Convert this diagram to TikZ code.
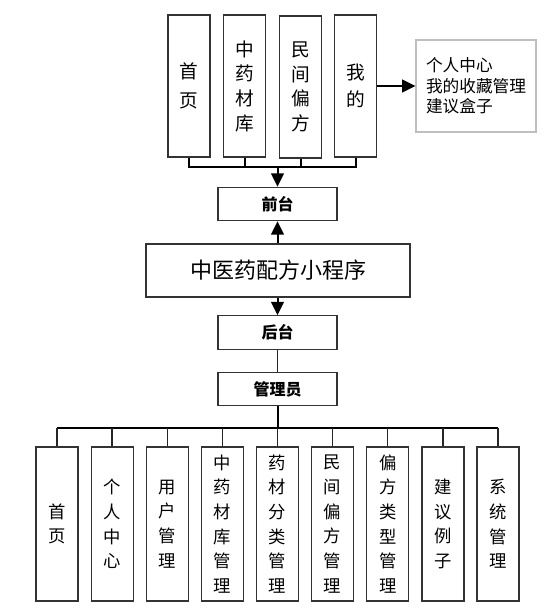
\documentclass[tikz,border=0pt]{standalone}
\usepackage{fontspec}
\newfontfamily\cjk{Noto Sans CJK SC}
\usetikzlibrary{arrows.meta}
\begin{document}
\begin{tikzpicture}[x=0.75pt,y=-0.75pt,
  box/.style={draw=black!80, line width=0.9pt, fill=white, inner sep=0pt},
  vbox/.style={box, minimum width=31.5pt, align=center, font=\cjk\fontsize{13}{18.5}\selectfont},
  topbox/.style={vbox, minimum height=106.5pt, font=\cjk\fontsize{14}{18.5}\selectfont},
  botbox/.style={vbox, minimum height=115.5pt},
  midbox/.style={box, minimum width=89.25pt, minimum height=25pt, font=\cjk\bfseries\fontsize{12}{14}\selectfont},
  conn/.style={draw=black, line width=1.5pt},
  thin/.style={draw=black!85, line width=1pt},
  arr/.style={conn, -{Triangle[width=9.5pt,length=10pt]}}
]
\useasboundingbox (0,0) rectangle (549,609);
% top boxes
\node[topbox] (t1) at (189,86) {首\\[3pt]页};
\node[topbox] (t2) at (244.5,86) {中\\药\\材\\库};
\node[topbox] (t3) at (300.5,87) {民\\间\\偏\\方};
\node[topbox] (t4) at (355.5,86) {我\\[2pt]的};
\node[draw=black!25, line width=0.8pt, fill=white, minimum width=90pt, minimum height=69pt,
      inner sep=0pt, align=left, font=\cjk\fontsize{12.5}{15.5}\selectfont] (rb) at (476,86)
      {个人中心\\我的收藏管理\\建议盒子\hphantom{管理}};
\draw[arr] (t4.east) -- (rb.west);
% top bus
\coordinate (tb) at (272,167);
\coordinate (tj) at (277.5,167);
\draw[conn] (t1.south) |- (t4.south |- tb) -- (t4.south);
\draw[conn] (t2.south) -- (t2.south |- tb);
\draw[conn] (t3.south) -- (t3.south |- tb);
% middle
\node[midbox] (qt) at (277.5,204) {前台};
\node[box, minimum width=198pt, minimum height=39.75pt, font=\cjk\fontsize{16.5}{20}\selectfont] (main) at (278,270.5) {中医药配方小程序};
\node[midbox] (ht) at (277.5,332.5) {后台};
\node[midbox] (gly) at (277.5,389) {管理员};
\draw[arr] (tj) -- (qt.north);
\draw[arr] (main.north -| qt) -- (qt.south);
\draw[arr] (main.south -| ht) -- (ht.north);
\draw[thin] (ht.south) -- (gly.north);
% bottom
\node[botbox] (b1) at (57,524) {首\\页};
\node[botbox] (b2) at (112.1,524) {个\\人\\中\\心};
\node[botbox] (b3) at (167.25,524) {用\\户\\管\\理};
\node[botbox] (b4) at (222.4,524) {中\\药\\材\\库\\管\\理};
\node[botbox] (b5) at (277.5,524) {药\\材\\分\\类\\管\\理};
\node[botbox] (b6) at (332.6,524) {民\\间\\偏\\方\\管\\理};
\node[botbox] (b7) at (387.75,524) {偏\\方\\类\\型\\管\\理};
\node[botbox] (b8) at (442.9,524) {建\\议\\例\\子};
\node[botbox] (b9) at (498,524) {系\\统\\管\\理};
\coordinate (bb) at (277.5,427.5);
\draw[conn] (gly.south) -- (bb);
\draw[conn] (b1.north |- bb) -- (b9.north |- bb);
\foreach \i in {1,...,9} \draw[thin] (b\i.north |- bb) -- (b\i.north);
\end{tikzpicture}
\end{document}
